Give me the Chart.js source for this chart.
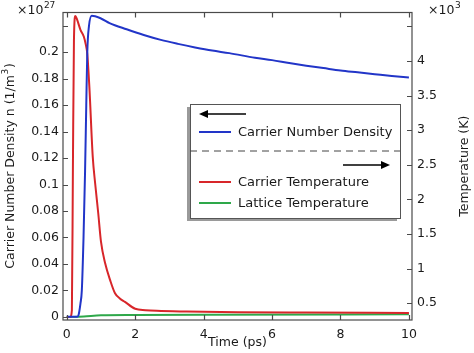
<!DOCTYPE html>
<html>
<head>
<meta charset="utf-8">
<script src="https://cdn.jsdelivr.net/npm/chart.js@4/dist/chart.umd.min.js"></script>
<style>
  html, body { margin: 0; padding: 0; background: #fff; }
  canvas { display: block; }
</style>
</head>
<body>
<canvas id="chart" width="474" height="353"></canvas>
<script>
// time axis (ps)
const timeTicks = [0, 2, 4, 6, 8, 10];

// carrier number density, x10^27 1/m^3 (left axis)
const densityTime = [0, 0.3, 0.34, 0.4, 0.44, 0.49, 0.535, 0.57, 0.6, 0.65, 0.73, 1.0, 1.25, 1.75, 2.25, 2.75, 3.25, 3.75, 4.25, 4.75, 5.5, 6, 6.5, 7, 7.5, 8, 8.5, 9, 9.5, 10];
const densityValues = [0, 0, 0.001, 0.01, 0.02, 0.06, 0.11, 0.16, 0.2, 0.22, 0.2276, 0.2255, 0.222, 0.2173, 0.213, 0.2093, 0.2063, 0.2036, 0.2012, 0.1993, 0.1958, 0.194, 0.1918, 0.1898, 0.188, 0.1862, 0.1848, 0.1834, 0.182, 0.1808];

// carrier temperature, x10^3 K (right axis)
const carrierTime = [0, 0.1, 0.15, 0.18, 0.21, 0.25, 0.3, 0.4, 0.5, 0.55, 0.6, 0.66, 0.76, 0.83, 0.92, 1.0, 1.12, 1.27, 1.41, 1.55, 1.7, 2.0, 2.3, 2.63, 3.5, 5, 7, 10];
const carrierTemp = [0.3, 0.3, 0.4, 2.5, 4.3, 4.65, 4.6, 4.45, 4.35, 4.25, 4.1, 3.63, 2.61, 2.23, 1.8, 1.39, 1.08, 0.83, 0.645, 0.57, 0.52, 0.42, 0.4, 0.39, 0.38, 0.37, 0.365, 0.36];

// lattice temperature, x10^3 K (right axis)
const latticeTime = [0, 0.5, 1, 2, 4, 10];
const latticeTemp = [0.3, 0.31, 0.325, 0.33, 0.335, 0.34];

// tick labels
const densityTicks = [0, 0.02, 0.04, 0.06, 0.08, 0.1, 0.12, 0.14, 0.16, 0.18, 0.2, 0.22];
const densityLabels = ['0', '0.02', '0.04', '0.06', '0.08', '0.1', '0.12', '0.14', '0.16', '0.18', '0.2', ''];
const tempTicks = [0.5, 1, 1.5, 2, 2.5, 3, 3.5, 4, 4.5];
const tempLabels = ['0.5', '1', '1.5', '2', '2.5', '3', '3.5', '4', ''];

const BLUE = '#2235c8';
const RED = '#d8262a';
const GREEN = '#2ea84a';
const FONT = '"DejaVu Sans", sans-serif';
const INK = '#1a1a1a';
const FRAME = '#4a4a4a';

function pts(xs, ys) {
    return xs.map((x, i) => ({ x: x, y: ys[i] }));
}

function setTicks(list) {
    return (scale) => { scale.ticks = list.map(v => ({ value: v })); };
}

// draw a string with a superscript part, in the current ctx transform
function supText(ctx, x, y, main, sup, size) {
    ctx.font = size + 'px ' + FONT;
    ctx.fillText(main, x, y);
    const w = ctx.measureText(main).width;
    ctx.font = Math.round(size * 0.7) + 'px ' + FONT;
    ctx.fillText(sup, x + w + 0.5, y - size * 0.45);
    return w + ctx.measureText(sup).width + 0.5;
}

function arrow(ctx, x1, x2, y) {
    const dir = x2 > x1 ? 1 : -1;
    ctx.beginPath();
    ctx.moveTo(x1, y);
    ctx.lineTo(x2 - dir * 8, y);
    ctx.lineWidth = 1.6;
    ctx.strokeStyle = '#000';
    ctx.stroke();
    ctx.beginPath();
    ctx.moveTo(x2, y);
    ctx.lineTo(x2 - dir * 9, y - 4);
    ctx.lineTo(x2 - dir * 9, y + 4);
    ctx.closePath();
    ctx.fillStyle = '#000';
    ctx.fill();
}

const decorations = {
    id: 'decorations',
    afterDraw(chart) {
        const ctx = chart.ctx;
        const a = chart.chartArea;
        const sx = chart.scales.x, sy = chart.scales.y, sy1 = chart.scales.y1;
        ctx.save();

        // frame
        ctx.strokeStyle = FRAME;
        ctx.lineWidth = 1.2;
        ctx.strokeRect(a.left, a.top, a.right - a.left, a.bottom - a.top);

        // inward tick marks
        ctx.beginPath();
        sx.ticks.forEach(t => {
            const px = Math.round(sx.getPixelForValue(t.value)) + 0.5;
            ctx.moveTo(px, a.bottom); ctx.lineTo(px, a.bottom - 5);
            ctx.moveTo(px, a.top); ctx.lineTo(px, a.top + 5);
        });
        sy.ticks.forEach(t => {
            const py = Math.round(sy.getPixelForValue(t.value)) + 0.5;
            ctx.moveTo(a.left, py); ctx.lineTo(a.left + 5, py);
        });
        sy1.ticks.forEach(t => {
            const py = Math.round(sy1.getPixelForValue(t.value)) + 0.5;
            ctx.moveTo(a.right, py); ctx.lineTo(a.right - 5, py);
        });
        ctx.stroke();

        // axis titles
        ctx.fillStyle = INK;
        ctx.textBaseline = 'middle';
        ctx.font = '12.5px ' + FONT;
        ctx.textAlign = 'center';
        ctx.fillText('Time (ps)', (a.left + a.right) / 2, 343);

        const midY = (a.top + a.bottom) / 2;
        ctx.save();
        ctx.translate(10, midY);
        ctx.rotate(-Math.PI / 2);
        ctx.textAlign = 'left';
        ctx.font = '12.5px ' + FONT;
        const leftMain = 'Carrier Number Density n (1/m';
        const wMain = ctx.measureText(leftMain).width;
        ctx.font = '9px ' + FONT;
        const wTotal = wMain + ctx.measureText('3').width + ctx.measureText(')').width + 2;
        let x0 = -wTotal / 2;
        const w1 = supText(ctx, x0, 1, leftMain, '3', 12.5);
        ctx.font = '12.5px ' + FONT;
        ctx.fillText(')', x0 + w1 + 1, 1);
        ctx.restore();

        ctx.save();
        ctx.translate(465, midY);
        ctx.rotate(-Math.PI / 2);
        ctx.textAlign = 'center';
        ctx.font = '12.5px ' + FONT;
        ctx.fillText('Temperature (K)', 0, 0);
        ctx.restore();

        // multipliers
        ctx.textAlign = 'left';
        ctx.textBaseline = 'alphabetic';
        supText(ctx, 17, 14, '\u00d710', '27', 12.5);
        supText(ctx, 428, 14, '\u00d710', '3', 12.5);

        // legend box with shadow
        const bx = 190, by = 104, bw = 210, bh = 114;
        ctx.fillStyle = '#9a9a9a';
        ctx.fillRect(bx - 3, by + 3, bw, bh);
        ctx.fillStyle = '#fff';
        ctx.fillRect(bx, by, bw, bh);
        ctx.strokeStyle = '#555';
        ctx.lineWidth = 1;
        ctx.strokeRect(bx + 0.5, by + 0.5, bw, bh);

        arrow(ctx, 246, 199, 114);
        arrow(ctx, 343, 390, 165);

        ctx.beginPath();
        ctx.setLineDash([7, 5]);
        ctx.moveTo(bx, 151); ctx.lineTo(bx + bw, 151);
        ctx.strokeStyle = '#444';
        ctx.lineWidth = 1;
        ctx.stroke();
        ctx.setLineDash([]);

        const rows = [[0, 132], [1, 182], [2, 203]];
        ctx.textBaseline = 'middle';
        ctx.font = '13px ' + FONT;
        rows.forEach(([i, y]) => {
            const ds = chart.data.datasets[i];
            ctx.beginPath();
            ctx.moveTo(199, y); ctx.lineTo(231, y);
            ctx.strokeStyle = ds.borderColor;
            ctx.lineWidth = 2;
            ctx.stroke();
            ctx.fillStyle = INK;
            ctx.fillText(ds.label, 238, y + 1);
        });

        ctx.restore();
    }
};

new Chart(document.getElementById('chart'), {
    type: 'line',
    data: {
        datasets: [
            { label: 'Carrier Number Density', data: pts(densityTime, densityValues), yAxisID: 'y', borderColor: BLUE },
            { label: 'Carrier Temperature', data: pts(carrierTime, carrierTemp), yAxisID: 'y1', borderColor: RED },
            { label: 'Lattice Temperature', data: pts(latticeTime, latticeTemp), yAxisID: 'y1', borderColor: GREEN }
        ]
    },
    options: {
        responsive: false,
        animation: false,
        devicePixelRatio: 1,
        layout: { padding: { top: 4, left: 0, right: 0, bottom: 0 } },
        elements: {
            point: { radius: 0 },
            line: { borderWidth: 2, cubicInterpolationMode: 'monotone', fill: false }
        },
        plugins: { legend: { display: false }, tooltip: { enabled: false } },
        scales: {
            x: {
                type: 'linear', position: 'bottom', min: -0.11, max: 10.09,
                afterBuildTicks: setTicks(timeTicks),
                afterFit: (s) => { s.height = 33; },
                grid: { display: false, drawTicks: false },
                border: { display: false },
                ticks: { padding: 7, color: INK, font: { family: FONT, size: 12.5 }, maxRotation: 0,
                         callback: (v) => String(v) }
            },
            y: {
                type: 'linear', position: 'left', min: -0.0024, max: 0.23,
                afterBuildTicks: setTicks(densityTicks),
                afterFit: (s) => { s.width = 63; },
                grid: { display: false, drawTicks: false },
                border: { display: false },
                ticks: { padding: 4, color: INK, font: { family: FONT, size: 12.5 },
                         callback: (v, i) => densityLabels[i] }
            },
            y1: {
                type: 'linear', position: 'right', min: 0.258, max: 4.70,
                afterBuildTicks: setTicks(tempTicks),
                afterFit: (s) => { s.width = 62; },
                grid: { display: false, drawTicks: false },
                border: { display: false },
                ticks: { padding: 5, color: INK, font: { family: FONT, size: 12.5 },
                         callback: (v, i) => tempLabels[i] }
            }
        }
    },
    plugins: [decorations]
});
</script>
</body>
</html>
